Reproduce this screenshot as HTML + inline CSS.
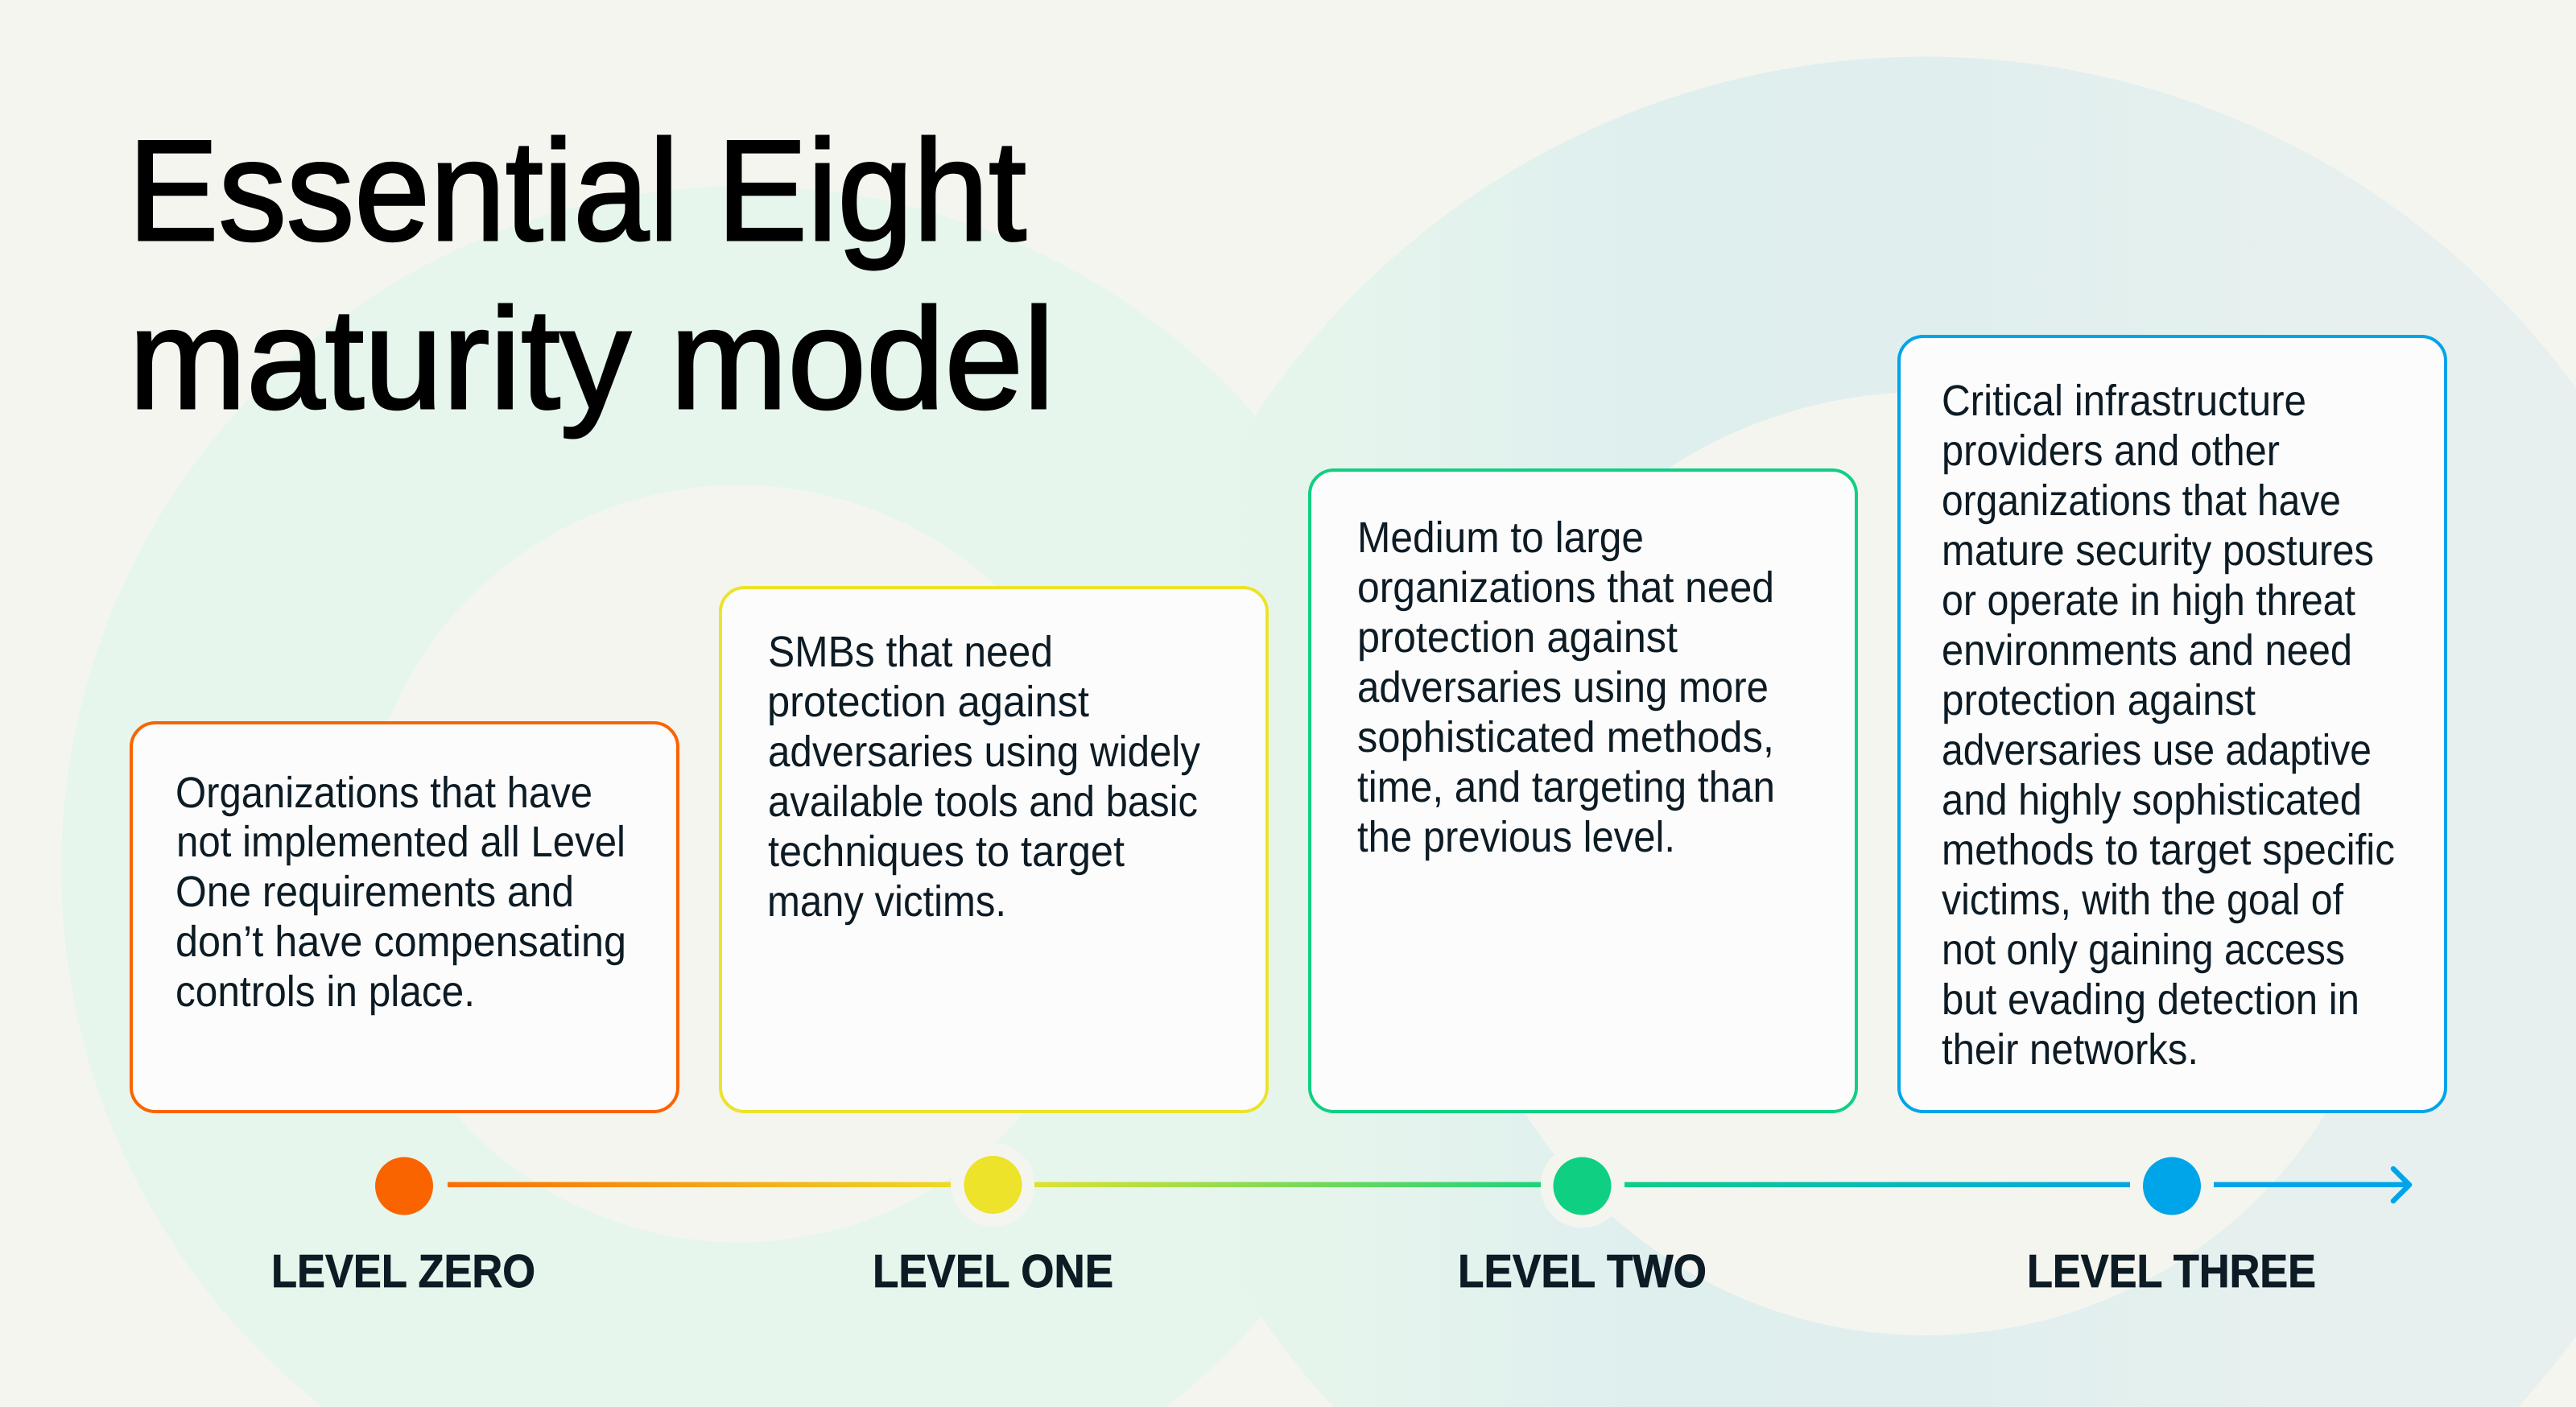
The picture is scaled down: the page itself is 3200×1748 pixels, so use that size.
<!DOCTYPE html>
<html lang="en">
<head>
<meta charset="utf-8">
<title>Essential Eight maturity model</title>
<style>
html,body{margin:0;padding:0;background:#f5f5f0;width:3200px;height:1748px;overflow:hidden;}
svg{display:block;overflow:hidden;}
text{font-family:"Liberation Sans",Arial,sans-serif;text-rendering:geometricPrecision;}
.t{font-size:178px;fill:#000;stroke:#000;stroke-width:3px;}
.b{font-size:54px;fill:#0d1b24;}
.l{font-size:58px;font-weight:700;fill:#0d1b24;stroke:#0d1b24;stroke-width:.8px;}
.c{fill:#fcfcfc;stroke-width:4;}
</style>
</head>
<body>
<svg xmlns="http://www.w3.org/2000/svg" width="3200" height="1748" viewBox="0 0 3200 1748">
<defs>
<linearGradient id="ring" gradientUnits="userSpaceOnUse" x1="1392" y1="0" x2="3392" y2="0">
<stop offset="0" stop-color="#e6f6ec"/>
<stop offset="0.12" stop-color="#e6f5ec"/>
<stop offset="0.32" stop-color="#dfefee"/>
<stop offset="0.52" stop-color="#e0efee"/>
<stop offset="0.8" stop-color="#e8f0ef"/>
<stop offset="1" stop-color="#e8f0ef"/>
</linearGradient>
<linearGradient id="line" gradientUnits="userSpaceOnUse" x1="502" y1="0" x2="2698" y2="0">
<stop offset="0" stop-color="#fa6400"/>
<stop offset="0.334" stop-color="#ece32a"/>
<stop offset="0.667" stop-color="#0fd082"/>
<stop offset="1" stop-color="#00a4e8"/>
</linearGradient>
</defs>

<rect width="3200" height="1748" fill="#f5f5f0"/>
<path fill="#e6f6ec" fill-rule="evenodd" d="M401 1748A849 849 0 1 1 1449 1748Z M448 1073a470 470 0 1 0 940 0a470 470 0 1 0 -940 0Z"/>
<path fill="url(#ring)" fill-rule="evenodd" d="M1656 1748A1000 1000 0 1 1 3200 482L3200 1660A1000 1000 0 0 1 3128 1748Z M1806 1073a586 586 0 1 0 1172 0a586 586 0 1 0 -1172 0Z"/>

<text class="t" x="159" y="298" textLength="1116" lengthAdjust="spacingAndGlyphs">Essential Eight</text>
<text class="t" x="160" y="507" textLength="1150" lengthAdjust="spacingAndGlyphs">maturity model</text>

<rect class="c" x="163" y="898" width="679" height="483" rx="30" stroke="#fa6400"/>
<rect class="c" x="895" y="730" width="679" height="651" rx="30" stroke="#ece32a"/>
<rect class="c" x="1627" y="584" width="679" height="797" rx="30" stroke="#0fd082"/>
<rect class="c" x="2359" y="418" width="679" height="963" rx="30" stroke="#00a4e8"/>

<text class="b" x="218" y="1003" textLength="518" lengthAdjust="spacingAndGlyphs">Organizations that have</text>
<text class="b" x="219" y="1064" textLength="558" lengthAdjust="spacingAndGlyphs">not implemented all Level</text>
<text class="b" x="218" y="1126" textLength="495" lengthAdjust="spacingAndGlyphs">One requirements and</text>
<text class="b" x="218" y="1188" textLength="560" lengthAdjust="spacingAndGlyphs">don’t have compensating</text>
<text class="b" x="218" y="1250" textLength="372" lengthAdjust="spacingAndGlyphs">controls in place.</text>

<text class="b" x="954" y="828" textLength="354" lengthAdjust="spacingAndGlyphs">SMBs that need</text>
<text class="b" x="953" y="890" textLength="400" lengthAdjust="spacingAndGlyphs">protection against</text>
<text class="b" x="954" y="952" textLength="537" lengthAdjust="spacingAndGlyphs">adversaries using widely</text>
<text class="b" x="954" y="1014" textLength="534" lengthAdjust="spacingAndGlyphs">available tools and basic</text>
<text class="b" x="954" y="1076" textLength="443" lengthAdjust="spacingAndGlyphs">techniques to target</text>
<text class="b" x="953" y="1138" textLength="297" lengthAdjust="spacingAndGlyphs">many victims.</text>

<text class="b" x="1686" y="686" textLength="356" lengthAdjust="spacingAndGlyphs">Medium to large</text>
<text class="b" x="1686" y="748" textLength="518" lengthAdjust="spacingAndGlyphs">organizations that need</text>
<text class="b" x="1686" y="810" textLength="398" lengthAdjust="spacingAndGlyphs">protection against</text>
<text class="b" x="1686" y="872" textLength="511" lengthAdjust="spacingAndGlyphs">adversaries using more</text>
<text class="b" x="1686" y="934" textLength="518" lengthAdjust="spacingAndGlyphs">sophisticated methods,</text>
<text class="b" x="1686" y="996" textLength="519" lengthAdjust="spacingAndGlyphs">time, and targeting than</text>
<text class="b" x="1686" y="1058" textLength="395" lengthAdjust="spacingAndGlyphs">the previous level.</text>

<text class="b" x="2412" y="516" textLength="453" lengthAdjust="spacingAndGlyphs">Critical infrastructure</text>
<text class="b" x="2412" y="578" textLength="420" lengthAdjust="spacingAndGlyphs">providers and other</text>
<text class="b" x="2412" y="640" textLength="496" lengthAdjust="spacingAndGlyphs">organizations that have</text>
<text class="b" x="2412" y="702" textLength="537" lengthAdjust="spacingAndGlyphs">mature security postures</text>
<text class="b" x="2412" y="764" textLength="514" lengthAdjust="spacingAndGlyphs">or operate in high threat</text>
<text class="b" x="2412" y="826" textLength="510" lengthAdjust="spacingAndGlyphs">environments and need</text>
<text class="b" x="2412" y="888" textLength="390" lengthAdjust="spacingAndGlyphs">protection against</text>
<text class="b" x="2412" y="950" textLength="534" lengthAdjust="spacingAndGlyphs">adversaries use adaptive</text>
<text class="b" x="2412" y="1012" textLength="522" lengthAdjust="spacingAndGlyphs">and highly sophisticated</text>
<text class="b" x="2412" y="1074" textLength="563" lengthAdjust="spacingAndGlyphs">methods to target specific</text>
<text class="b" x="2412" y="1136" textLength="499" lengthAdjust="spacingAndGlyphs">victims, with the goal of</text>
<text class="b" x="2412" y="1198" textLength="501" lengthAdjust="spacingAndGlyphs">not only gaining access</text>
<text class="b" x="2412" y="1260" textLength="519" lengthAdjust="spacingAndGlyphs">but evading detection in</text>
<text class="b" x="2412" y="1322" textLength="319" lengthAdjust="spacingAndGlyphs">their networks.</text>

<circle cx="1233.5" cy="1472" r="52" fill="#f5f5f0"/>
<circle cx="1965.5" cy="1473.5" r="52" fill="#f5f5f0"/>
<circle cx="2698" cy="1473.5" r="52" fill="#f5f5f0"/>

<rect x="556" y="1468.5" width="625" height="6.5" fill="url(#line)"/>
<rect x="1285" y="1468.5" width="629" height="6.5" fill="url(#line)"/>
<rect x="2018" y="1468.5" width="628" height="6.5" fill="url(#line)"/>
<rect x="2750" y="1468.5" width="242" height="6.5" fill="#00a4e8"/>
<path d="M2973 1452L2993 1472L2973 1492" fill="none" stroke="#00a4e8" stroke-width="6.5" stroke-linecap="round" stroke-linejoin="round"/>

<circle cx="502" cy="1473.5" r="36" fill="#fa6400"/>
<circle cx="1233.5" cy="1472" r="36" fill="#ece32a"/>
<circle cx="1965.5" cy="1473.5" r="36" fill="#0fd082"/>
<circle cx="2698" cy="1473.5" r="36" fill="#00a4e8"/>

<text class="l" x="337" y="1599" textLength="328" lengthAdjust="spacingAndGlyphs">LEVEL ZERO</text>
<text class="l" x="1084" y="1599" textLength="299" lengthAdjust="spacingAndGlyphs">LEVEL ONE</text>
<text class="l" x="1811" y="1599" textLength="309" lengthAdjust="spacingAndGlyphs">LEVEL TWO</text>
<text class="l" x="2518" y="1599" textLength="359" lengthAdjust="spacingAndGlyphs">LEVEL THREE</text>
</svg>
</body>
</html>
